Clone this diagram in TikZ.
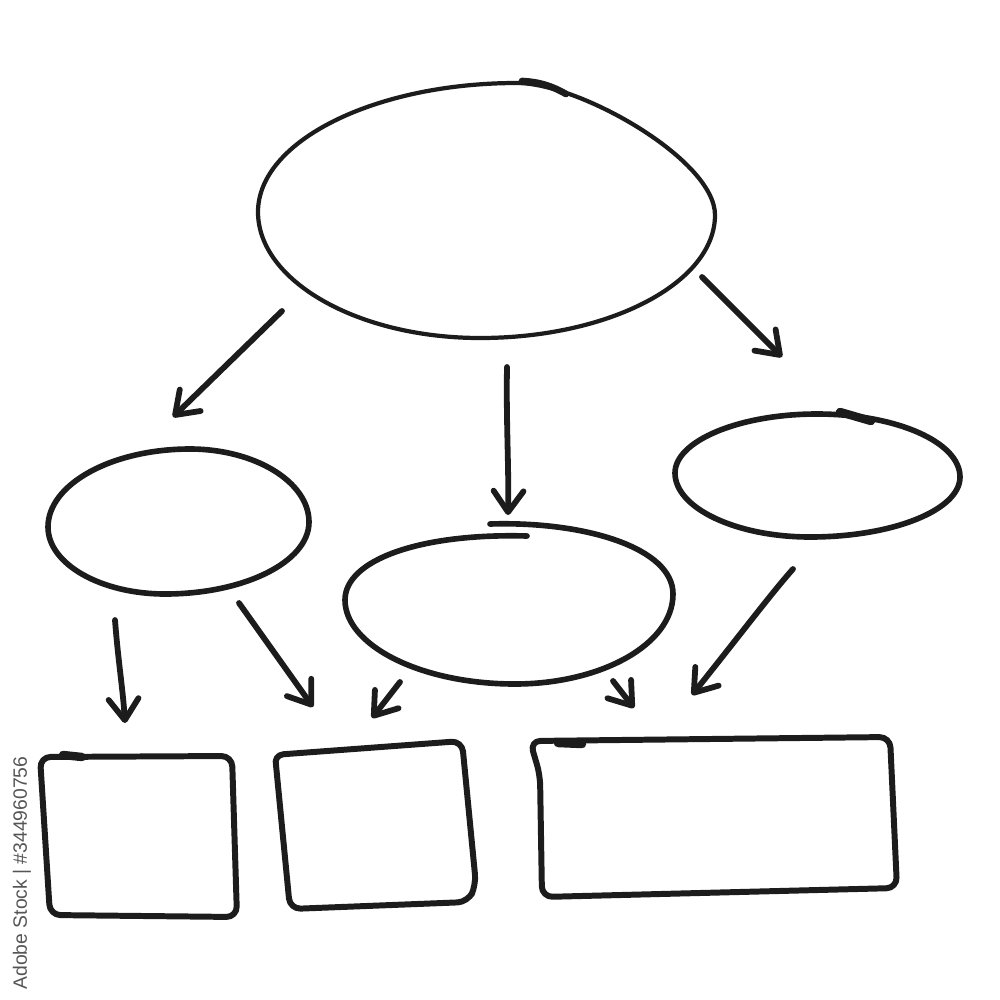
\documentclass[tikz,border=0pt]{standalone}
\usepackage{fontspec}
\newfontfamily\wmfont{Liberation Sans}
\usetikzlibrary{arrows.meta}
\definecolor{ink}{HTML}{1C1C1C}
\definecolor{wmgray}{HTML}{555555}
\tikzset{
  shapeline/.style={draw=ink, line width=1.6pt, line cap=round, line join=round},
  thinline/.style={draw=ink, line width=1.2pt, line cap=round, line join=round},
  tickline/.style={draw=ink, line width=2.4pt, line cap=round},
  boxline/.style={draw=ink, line width=1.7pt, line cap=round, line join=round, rounded corners=3pt},
  arrowline/.style={draw=ink, line width=1.65pt, line cap=round,
    -{Straight Barb[length=6pt, width=8.5pt, round]}},
}
\begin{document}
\begin{tikzpicture}[x=0.01cm, y=-0.01cm]
\useasboundingbox (0,0) rectangle (1000,1000);

% --- top ellipse
\draw[thinline] (258,212) .. controls (258,141) and (375,83) .. (517,83)
  .. controls (580,83) and (715,160) .. (715,215)
  .. controls (715,283) and (609,338) .. (480,338)
  .. controls (358,338) and (258,281) .. (258,212) -- cycle;
\draw[tickline, line width=1.9pt] (522,81) .. controls (540,82) and (552,86) .. (566,94);

% --- left ellipse
\draw[shapeline] (48,527) .. controls (48,484) and (112,449) .. (190,449)
  .. controls (255,449) and (309,482) .. (309,522)
  .. controls (309,562) and (244,594) .. (165,594)
  .. controls (101,594) and (48,564) .. (48,527) -- cycle;

% --- right ellipse
\draw[shapeline] (675,473) .. controls (675,441) and (739,414) .. (817,414)
  .. controls (896,414) and (960,442) .. (960,477)
  .. controls (960,510) and (893,537) .. (810,537)
  .. controls (736,537) and (675,508) .. (675,473) -- cycle;
\draw[tickline] (840,412) -- (871,421);

% --- middle ellipse (spiral stroke)
\draw[shapeline] (490,524) .. controls (585,521) and (673,548) .. (673,594)
  .. controls (673,645) and (600,684) .. (515,684)
  .. controls (420,684) and (345,645) .. (345,600)
  .. controls (345,560) and (420,533) .. (527,536);

% --- boxes
\draw[boxline] (40,757) -- (232,756) -- (237,917) -- (50,915) -- cycle;
\draw[tickline] (63,755) -- (82,757);
\draw[boxline] (276,765) -- (273,755) -- (462,741) -- (476,885) -- (468,902) -- (290,909) -- (276,765);
\draw[boxline] (530,741) -- (890,737) -- (897,888) -- (542,897) -- (540,775) -- cycle;
\draw[tickline] (558,743) -- (582,744);

% --- arrow end points
\coordinate (a1s) at (282,311); \coordinate (a1e) at (173,417);
\coordinate (a2s) at (507,367); \coordinate (a2e) at (508,515);
\coordinate (a3s) at (702,277); \coordinate (a3e) at (782,357);
\coordinate (a4s) at (115,620); \coordinate (a4e) at (125,723);
\coordinate (a5s) at (239,603); \coordinate (a5e) at (313,707);
\coordinate (a6s) at (400,682); \coordinate (a6e) at (372,718);
\coordinate (a7s) at (613,681); \coordinate (a7e) at (634,708);
\coordinate (a8s) at (793,569); \coordinate (a8e) at (692,695);

\draw[arrowline] (a1s) -- (a1e);
\draw[arrowline] (a2s) .. controls (506,420) and (509,470) .. (a2e);
\draw[arrowline] (a3s) -- (a3e);
\draw[arrowline] (a4s) .. controls (118,660) and (123,690) .. (a4e);
\draw[arrowline] (a5s) -- (a5e);
\draw[arrowline] (a6s) -- (a6e);
\draw[arrowline] (a7s) -- (a7e);
\draw[arrowline] (a8s) .. controls (770,595) and (740,635) .. (a8e);

% --- stock id
\node[rotate=90, text=wmgray, font=\wmfont\fontsize{5.5}{6}\selectfont, inner sep=0pt]
  (wm) at (22,873) {Adobe Stock | \#344960756};
\end{tikzpicture}
\end{document}
